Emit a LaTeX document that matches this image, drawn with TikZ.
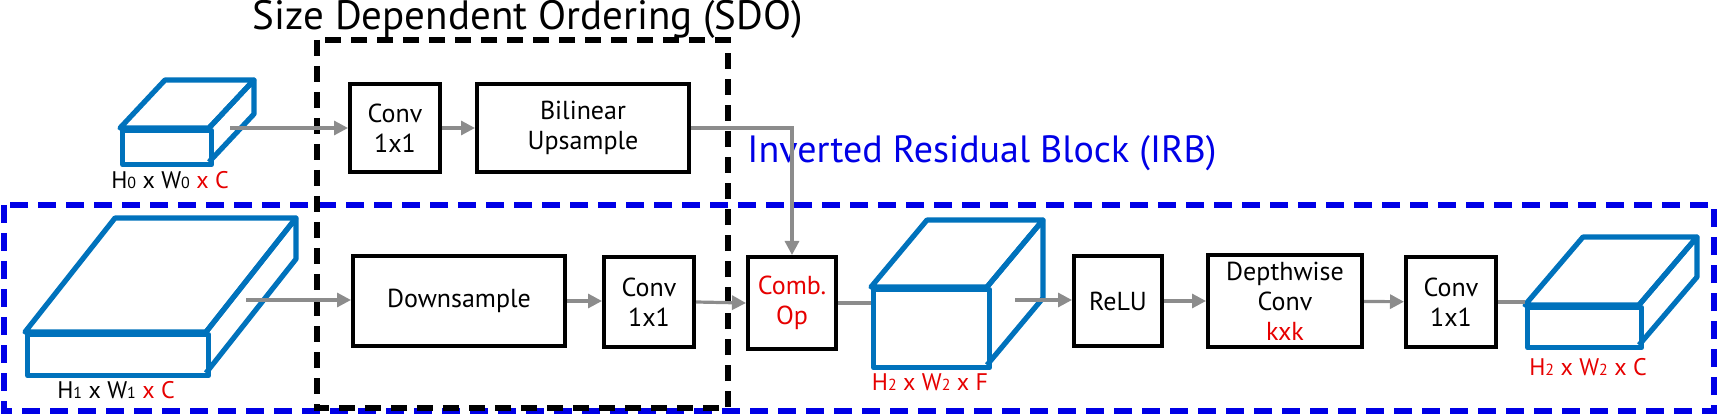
\documentclass[tikz,border=0pt]{standalone}
\usepackage{fontspec}
\setmainfont{PT Sans}
\usetikzlibrary{arrows.meta}
\definecolor{cubeblue}{RGB}{0,114,188}
\definecolor{irbblue}{RGB}{0,0,230}
\definecolor{txtred}{RGB}{230,0,0}
\definecolor{arrgray}{RGB}{140,140,140}
\tikzset{
  box/.style={draw=black,line width=2pt,align=center,font=\fontsize{13}{15}\selectfont,inner sep=0pt},
  arr/.style={draw=arrgray,line width=1.6pt,-{Triangle[length=7pt,width=7pt]}},
  lin/.style={draw=arrgray,line width=1.6pt},
  cubeline/.style={draw=cubeblue,line width=2.6pt,line join=round},
  lbl/.style={font=\fontsize{12}{14}\selectfont,inner sep=0pt},
}
\newcommand{\mycube}[7]{% name x1 y1 x2 y2 dx dy
  \node[cubeline,fill=white,inner sep=0pt,minimum width={(#4-#2)*0.5pt},minimum height={(#5-#3)*0.5pt},anchor=north west] (#1) at (#2,#3) {};
  \draw[cubeline] (#2,#3) -- ++(#6,#7) -- (#4+#6,#3+#7) -- (#4,#3) -- cycle;
  \draw[cubeline] (#4,#3) -- (#4+#6,#3+#7) -- (#4+#6,#5+#7) -- (#4,#5);
}
\newcommand{\sub}[1]{{\fontsize{8}{8}\selectfont #1}}
\begin{document}
\begin{tikzpicture}[x=0.5pt,y=-0.5pt]
\useasboundingbox (0,0) rectangle (1721,417);
% frames
\draw[irbblue,line width=2.6pt,dash pattern=on 9pt off 5pt] (4,205) rectangle (1714,411);
\draw[black,line width=2.6pt,dash pattern=on 8pt off 5pt] (317,40) rectangle (728,408);
\node[font=\fontsize{20.5}{23}\selectfont] (sdo) at (528,19) {Size Dependent Ordering (SDO)};
\node[font=\fontsize{19}{22}\selectfont,text=irbblue] (irb) at (982,153) {Inverted Residual Block (IRB)};
% cubes
\mycube{c0}{120}{128}{209}{162}{45}{-48}
\mycube{c1}{25}{332}{206}{373}{90}{-114}
\mycube{c2}{871}{287}{987}{365}{56}{-67}
\mycube{c3}{1525}{305}{1639}{345}{58}{-68}
\node[lbl] (l0) at (170,180) {H\sub{0} x W\sub{0} \textcolor{txtred}{x C}};
\node[lbl] (l1) at (116,390) {H\sub{1} x W\sub{1} \textcolor{txtred}{x C}};
\node[lbl,text=txtred] (l2) at (930,382) {H\sub{2} x W\sub{2} x F};
\node[lbl,text=txtred] (l3) at (1588,367) {H\sub{2} x W\sub{2} x C};
% boxes
\node[box,minimum width=45pt,minimum height=44pt] (conv0) at (395,128) {Conv\\1x1};
\node[box,minimum width=106pt,minimum height=44pt] (bil) at (583,128) {Bilinear\\Upsample};
\node[box,minimum width=106pt,minimum height=45pt] (down) at (459,301) {Downsample};
\node[box,minimum width=45pt,minimum height=45pt] (conv1) at (649,302) {Conv\\1x1};
\node[box,minimum width=44pt,minimum height=46pt,text=txtred] (comb) at (792,303) {Comb.\\Op};
\node[box,minimum width=44pt,minimum height=45pt] (relu) at (1118,301) {ReLU};
\node[box,minimum width=77pt,minimum height=46pt] (dw) at (1285,301) {Depthwise\\Conv\\\textcolor{txtred}{kxk}};
\node[box,minimum width=45pt,minimum height=45pt] (conv2) at (1451,302) {Conv\\1x1};
% connectors
\coordinate (s0) at (230,128);
\coordinate (s1) at (246,300);
\coordinate (s2) at (1015,300);
\draw[arr] (s0) -- (conv0.west|-s0);
\draw[arr] (conv0) -- (bil);
\draw[arr] (s1) -- (down.west|-s1);
\draw[arr] (down) -- (conv1.west|-down);
\draw[arr] (conv1.east) -- (comb.west);
\draw[arr] (bil.east) -| (comb.north);
\draw[lin] (comb.east) -- (comb.east-|c2.west);
\draw[arr] (s2) -- (relu.west|-s2);
\draw[arr] (relu) -- (dw);
\draw[arr] (dw) -- (conv2);
\draw[lin] (conv2.east) -- (conv2.east-|c3.west);
\end{tikzpicture}
\end{document}
